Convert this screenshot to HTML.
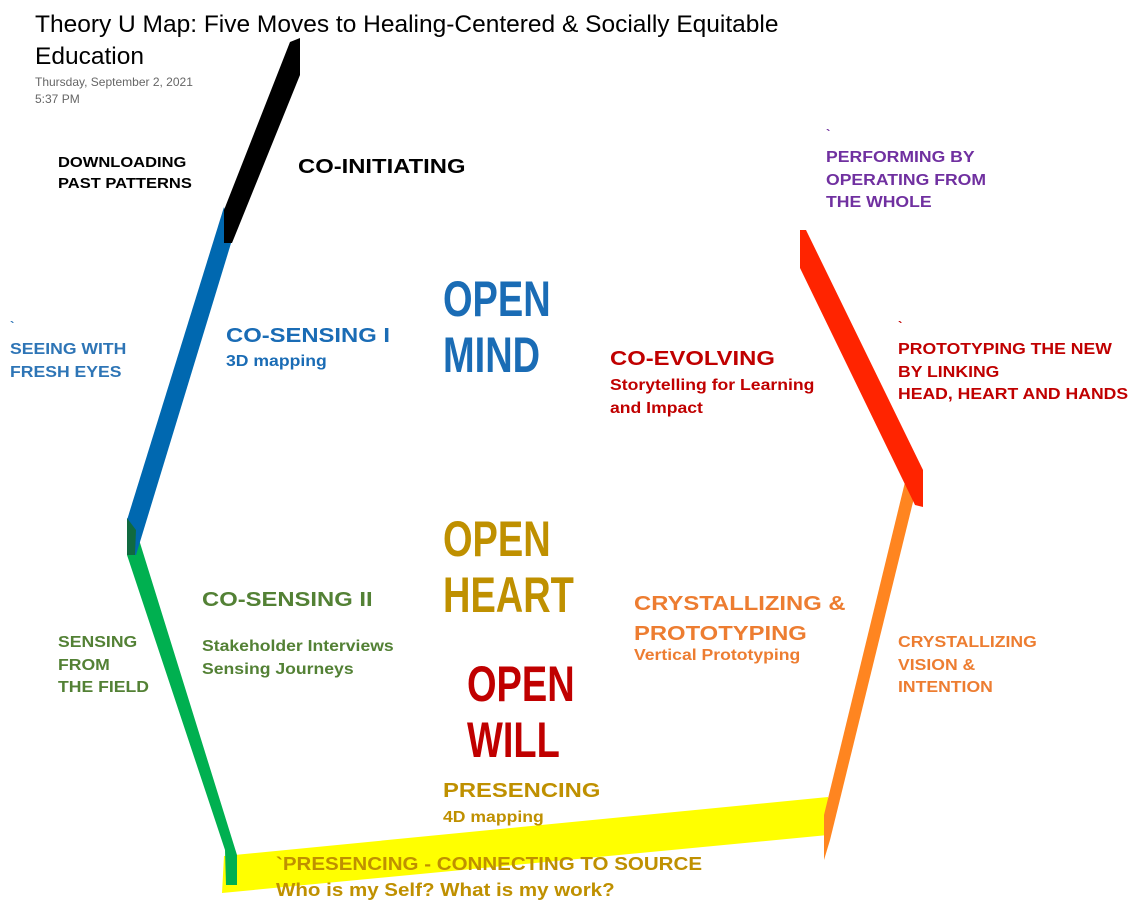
<!DOCTYPE html>
<html><head><meta charset="utf-8"><style>
body{margin:0;width:1146px;height:911px;background:#fff;position:relative;overflow:hidden;font-family:"Liberation Sans",Arial,sans-serif}
.t{position:absolute;font-weight:bold;white-space:nowrap;line-height:22.5px;font-size:16px;transform:scaleX(1.1);transform-origin:0 0}
.h{font-size:20px;transform:scaleX(1.19)}
.big{position:absolute;font-weight:bold;white-space:nowrap;font-size:50px;line-height:56px;transform:scaleX(0.76);transform-origin:0 0}
</style></head><body>
<svg width="1146" height="911" style="position:absolute;left:0;top:0">
<polygon points="224,856 828,797 828,835 222,893" fill="#ffff00"/>
<polygon points="906,478 914,498 830,840 824,860 824,815" fill="#ff8520"/>
<polygon points="800,230 806,230 923,470 923,507 915,505 800,268" fill="#ff2400"/>
<polygon points="127,520 136,530 237,855 237,885 226,885 225,850 127,555" fill="#00b050"/>
<polygon points="224,207 232,240 136,555 127,555 127,520" fill="#0068b0"/>
<polygon points="127,518 136,530 135,555 127,555" fill="#106a40"/>
<polygon points="290,42 300,38 300,75 232,243 224,243 224,210" fill="#000"/>
</svg>
<div style="position:absolute;left:35px;top:9px;font-size:24.5px;line-height:32px;color:#000;white-space:nowrap">Theory U Map: Five Moves to Healing-Centered &amp; Socially Equitable<br>Education</div>
<div style="position:absolute;left:35px;top:74px;font-size:12px;line-height:17px;color:#666">Thursday, September 2, 2021<br>5:37 PM</div>
<div class="t" style="left:58px;top:152px;color:#000;font-size:15px;line-height:21px">DOWNLOADING<br>PAST PATTERNS</div>
<div class="t h" style="left:298px;top:156px;color:#000">CO-INITIATING</div>
<div class="t" style="left:826px;top:123px;color:#7030a0;font-size:12px">`</div>
<div class="t" style="left:826px;top:147px;color:#7030a0">PERFORMING BY<br>OPERATING FROM<br>THE WHOLE</div>
<div class="t" style="left:10px;top:315px;color:#2e75b6;font-size:12px">`</div>
<div class="t" style="left:10px;top:339px;color:#2e75b6">SEEING WITH<br>FRESH EYES</div>
<div class="t h" style="left:226px;top:325px;color:#1a6cb5">CO-SENSING I</div>
<div class="t" style="left:226px;top:351px;color:#1a6cb5">3D mapping</div>
<div class="big" style="left:443px;top:271px;color:#1a6cb5">OPEN<br>MIND</div>
<div class="t h" style="left:610px;top:348px;color:#c00000">CO-EVOLVING</div>
<div class="t" style="left:610px;top:375px;color:#c00000">Storytelling for Learning<br>and Impact</div>
<div class="t" style="left:898px;top:315px;color:#c00000;font-size:12px">`</div>
<div class="t" style="left:898px;top:339px;color:#c00000">PROTOTYPING THE NEW<br>BY LINKING<br>HEAD, HEART AND HANDS</div>
<div class="big" style="left:443px;top:511px;color:#bf9000">OPEN<br>HEART</div>
<div class="t h" style="left:202px;top:589px;color:#538135">CO-SENSING II</div>
<div class="t" style="left:202px;top:636px;color:#538135">Stakeholder Interviews<br>Sensing Journeys</div>
<div class="t" style="left:58px;top:632px;color:#538135">SENSING<br>FROM<br>THE FIELD</div>
<div class="t h" style="left:634px;top:589px;color:#ed7d31;line-height:30px">CRYSTALLIZING &amp;<br>PROTOTYPING</div>
<div class="t" style="left:634px;top:645px;color:#ed7d31">Vertical Prototyping</div>
<div class="t" style="left:898px;top:632px;color:#ed7d31">CRYSTALLIZING<br>VISION &amp;<br>INTENTION</div>
<div class="big" style="left:467px;top:656px;color:#c00000">OPEN<br>WILL</div>
<div class="t h" style="left:443px;top:780px;color:#bf9000">PRESENCING</div>
<div class="t" style="left:443px;top:807px;color:#bf9000">4D mapping</div>
<div class="t" style="left:276px;top:851px;color:#bf9000;font-size:18px;line-height:26px;transform:scaleX(1.14)">`PRESENCING - CONNECTING TO SOURCE<br>Who is my Self? What is my work?</div>
</body></html>
